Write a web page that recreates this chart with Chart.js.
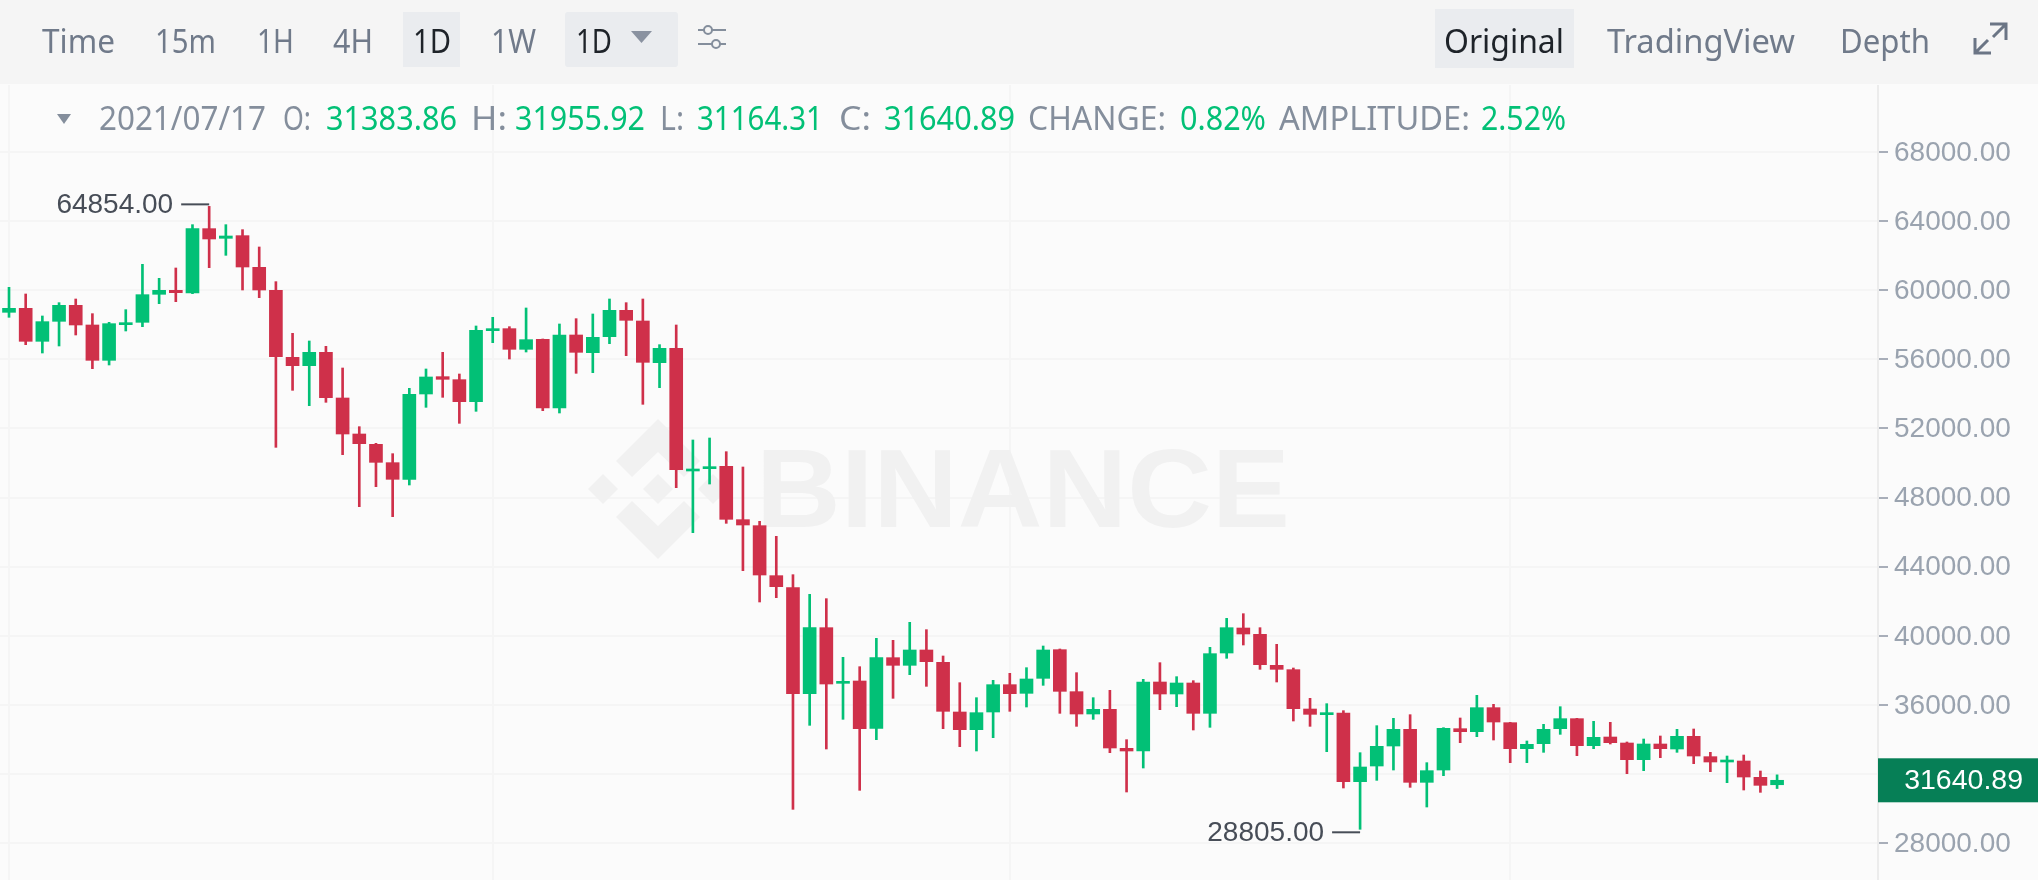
<!DOCTYPE html>
<html>
<head>
<meta charset="utf-8">
<title>BTC 1D</title>
<script src="https://cdn.jsdelivr.net/npm/chart.js@4"></script>
<style>
    html, body { margin: 0; padding: 0; background: #fbfbfb; }
    #page { position: relative; width: 2038px; height: 880px; overflow: hidden; background: #fbfbfb; }
    #toolbar { position: absolute; left: 0; top: 0; width: 2038px; height: 84px; background: #f5f5f5; }
    .box { position: absolute; top: 12px; height: 55px; background: #eaecef; }
    canvas { position: absolute; left: 0; top: 85px; }
    .txt { position: absolute; white-space: nowrap; font-family: "Noto Sans", sans-serif; font-size: 33px; line-height: 40px; transform-origin: left top; }
    svg { position: absolute; left: 0; top: 0; }
</style>
</head>
<body>
<div id="page">
    <div id="toolbar">
        <div class="box" style="left:403px;width:57px"></div>
        <div class="box" style="left:565px;width:113px;border-radius:3px"></div>
        <div class="box" style="left:1435px;width:139px;top:9px;height:59px"></div>
    </div>
    <canvas id="bougies" width="2038" height="795"></canvas>
    <svg width="2038" height="140" fill="none">
        <path d="M631 31 H652 L641.5 43 Z" fill="#8a92a0"/>
        <path d="M57 114 H71 L64 124 Z" fill="#848e9c"/>
        <g stroke="#848e9c" stroke-width="2">
            <path d="M698 30 H704 M712 30 H726 M698 44 H712 M720 44 H726"/>
            <circle cx="708" cy="30" r="4"/>
            <circle cx="716" cy="44" r="4"/>
        </g>
        <path d="M1990 24 H2006 V40 M2006 24 L1993 37 M1975 38 V53 H1991 M1975 53 L1988 40" stroke="#6b7585" stroke-width="3"/>
    </svg>
</div>
<script>
// Données (bougies journalières, dernière = 2021/07/17)
const opens = [
    58722, 58953, 57044, 58201, 59127, 57989, 55944, 58008, 58143, 59764,
    59995, 59841, 63564, 63004, 63159, 61326, 59995, 56118, 55635, 56407,
    53764, 51681, 51083, 50022, 49058, 53996, 54999, 54825, 53552, 57661,
    57777, 56581, 57159, 53186, 57410, 56388, 57314, 58838, 58220, 55809,
    56639, 49540, 49675, 49810, 46723, 46376, 43483, 42788, 36654, 40473,
    37252, 37387, 34648, 38737, 38294, 39181, 38467, 35593, 34571, 35593,
    37175, 36673, 37541, 39200, 36770, 35477, 35747, 33490, 33336, 37329,
    36635, 37271, 35516, 39007, 40454, 40087, 38293, 38043, 35766, 35439,
    35535, 31561, 32468, 33625, 34590, 31523, 32236, 34628, 34455, 35844,
    34975, 33471, 33760, 34628, 35207, 33644, 34146, 33799, 32834, 33741,
    33452, 34185, 33008, 32699, 32757, 31812, 31383.86
];
const closes = [
    58953, 57044, 58182, 59127, 57989, 55944, 58066, 58124, 59744, 59995,
    59860, 63564, 62966, 63139, 61345, 60014, 56156, 55635, 56407, 53784,
    51681, 51122, 50041, 49058, 53977, 54980, 54845, 53552, 57680, 57777,
    56581, 57140, 53186, 57410, 56407, 57275, 58838, 58259, 55828, 56639,
    49617, 49597, 49771, 46743, 46415, 43521, 42846, 36654, 40473, 37213,
    37348, 34628, 38737, 38294, 39181, 38506, 35632, 34571, 35554, 37175,
    36654, 37503, 39181, 36789, 35477, 35747, 33510, 33336, 37329, 36635,
    37271, 35516, 38969, 40473, 40107, 38332, 38062, 35786, 35458, 35535,
    31561, 32410, 33606, 34590, 31523, 32198, 34648, 34455, 35844, 35014,
    33471, 33722, 34590, 35207, 33644, 34127, 33818, 32834, 33741, 33471,
    34185, 33046, 32699, 32776, 31831, 31349, 31640.89
];
const highs = [
    60169, 59783, 58510, 59281, 59493, 58645, 58143, 58876, 61500, 60689,
    61287, 63795, 64854, 63795, 63506, 62503, 60497, 57507, 57063, 56754,
    55500, 52105, 51141, 50543, 54324, 55443, 56407, 55153, 57931, 58433,
    57892, 58973, 57179, 58047, 58355, 58625, 59493, 59281, 59493, 56851,
    57989, 51334, 51449, 50658, 49771, 46627, 45759, 43540, 42402, 42152,
    38757, 38216, 39856, 39740, 40782, 40358, 38834, 37290, 36422, 37426,
    37831, 38158, 39412, 39239, 37869, 36422, 36847, 33992, 37483, 38448,
    37638, 37406, 39335, 41013, 41283, 40473, 39509, 38139, 36384, 36075,
    35670, 33239, 34802, 35226, 35438, 32661, 34686, 35246, 36557, 36036,
    34995, 33915, 34879, 35901, 35226, 35053, 34995, 33857, 34030, 34204,
    34590, 34609, 33259, 33046, 33104, 32178, 31955.92
];
const lows = [
    58433, 56851, 56368, 56774, 57410, 55462, 55674, 57642, 57892, 59223,
    59339, 59802, 61307, 62020, 60014, 59571, 50909, 54208, 53321, 53514,
    50485, 47476, 48633, 46897, 48730, 53224, 53803, 52298, 52993, 56966,
    56021, 56426, 53031, 52896, 55192, 55230, 56909, 56214, 53398, 54362,
    48575, 45971, 48787, 46511, 43772, 41959, 42209, 29960, 34821, 33452,
    35169, 31060, 33992, 36384, 37753, 37078, 34628, 33587, 33336, 34108,
    35632, 35882, 37136, 35516, 34763, 35168, 33239, 30963, 32352, 35728,
    35901, 34551, 34706, 38699, 39470, 38062, 37329, 35072, 34763, 33297,
    31195, 28805, 31638, 32236, 31233, 30095, 31908, 33818, 34165, 33972,
    32661, 32661, 33259, 34300, 33066, 33471, 33741, 32024, 32198, 32950,
    33259, 32603, 32140, 31503, 31079, 30944, 31164.31
];

// Dates des bougies, à partir du 2 avril 2021
const categories = [];
for (let i = 0; i < opens.length; i++) {
    const d = new Date(Date.UTC(2021, 3, 2 + i));
    categories.push(d.toISOString().slice(0, 10).replace(/-/g, "/"));
}

const yTicks = [28000, 32000, 36000, 40000, 44000, 48000, 52000, 56000, 60000, 64000, 68000];
const monthStarts = [0, 29, 60, 90];

const toolbarLabels = ["Time", "15m", "1H", "4H", "1D", "1W", "1D", "Original", "TradingView", "Depth"];
const toolbarBounds = [[42, 115], [155, 216], [257, 294], [333, 373], [413, 451], [491, 536], [576, 612], [1444, 1564], [1607, 1795], [1840, 1930]];
const toolbarActive = [4, 6, 7];

const changePct = "0.82%";
const amplitudePct = "2.52%";

const VERT = "#02c076";
const ROUGE = "#cf304a";
const GRILLE = "#f5f5f5";

// Texte placé entre deux x, ajusté en largeur
function placerTexte(text, x0, x1, baseline, color) {
    const el = document.createElement("span");
    el.className = "txt";
    el.textContent = text;
    el.style.color = color;
    el.style.left = x0 + "px";
    el.style.top = (baseline - 33) + "px";
    document.getElementById("page").appendChild(el);
    el.style.transform = `scaleX(${(x1 - x0) / el.getBoundingClientRect().width})`;
}

toolbarLabels.forEach((label, i) => {
    const color = toolbarActive.includes(i) ? "#1e2329" : "#707a8a";
    placerTexte(label, toolbarBounds[i][0], toolbarBounds[i][1], 54, color);
});

// Ligne OHLC de la dernière bougie
const last = opens.length - 1;
const GRIS = "#848e9c";
placerTexte(categories[last], 99, 266, 131, GRIS);
placerTexte("O:", 283, 311, 131, GRIS);
placerTexte(opens[last].toFixed(2), 326, 457, 131, VERT);
placerTexte("H:", 471, 507, 131, GRIS);
placerTexte(highs[last].toFixed(2), 515, 645, 131, VERT);
placerTexte("L:", 660, 684, 131, GRIS);
placerTexte(lows[last].toFixed(2), 697, 823, 131, VERT);
placerTexte("C:", 839, 871, 131, GRIS);
placerTexte(closes[last].toFixed(2), 884, 1015, 131, VERT);
placerTexte("CHANGE:", 1028, 1166, 131, GRIS);
placerTexte(changePct, 1180, 1266, 131, VERT);
placerTexte("AMPLITUDE:", 1279, 1470, 131, GRIS);
placerTexte(amplitudePct, 1481, 1566, 131, VERT);

// Filigrane BINANCE, sous les bougies
const filigrane = {
    id: "filigrane",
    beforeDatasetsDraw(chart) {
        const ctx = chart.ctx;
        ctx.save();
        ctx.translate(0, -85);
        ctx.fillStyle = "#f1f1f1";
        const losange = (cx, cy, r) => {
            ctx.beginPath();
            ctx.moveTo(cx - r, cy);
            ctx.lineTo(cx, cy - r);
            ctx.lineTo(cx + r, cy);
            ctx.lineTo(cx, cy + r);
            ctx.fill();
        };
        losange(603, 489, 15);
        losange(658, 489, 15);
        losange(713, 489, 15);
        [1, -1].forEach((s) => {
            ctx.beginPath();
            ctx.moveTo(658, 489 - 70 * s);
            ctx.lineTo(700, 489 - 28 * s);
            ctx.lineTo(684, 489 - 12 * s);
            ctx.lineTo(658, 489 - 37 * s);
            ctx.lineTo(632, 489 - 12 * s);
            ctx.lineTo(616, 489 - 28 * s);
            ctx.fill();
        });
        ctx.font = 'bold 112px "Liberation Sans"';
        ctx.textBaseline = "alphabetic";
        const w = ctx.measureText("BINANCE").width;
        ctx.translate(756, 527);
        ctx.scale(534 / w, 1);
        ctx.fillText("BINANCE", 0, 0);
        ctx.restore();
    },
};

// Étiquettes max / min et prix courant
const reperes = {
    id: "reperes",
    afterDatasetsDraw(chart) {
        const ctx = chart.ctx;
        const xs = chart.scales.x;
        const ys = chart.scales.y;
        const maxIdx = highs.indexOf(Math.max(...highs));
        const minIdx = lows.indexOf(Math.min(...lows));

        ctx.save();
        ctx.font = '28px "Liberation Sans"';
        ctx.textBaseline = "middle";
        ctx.textAlign = "right";
        [[maxIdx, highs[maxIdx], -2], [minIdx, lows[minIdx], 3]].forEach(([idx, val, dy]) => {
            const cx = xs.getPixelForValue(idx);
            const y = ys.getPixelForValue(val) + dy;
            ctx.strokeStyle = "#474d57";
            ctx.lineWidth = 2;
            ctx.beginPath();
            ctx.moveTo(cx - 28, y);
            ctx.lineTo(cx, y);
            ctx.stroke();
            ctx.fillStyle = "#474d57";
            ctx.fillText(val.toFixed(2), cx - 36, y + 1);
        });

        const yPrix = ys.getPixelForValue(closes[last]);
        ctx.fillStyle = "#067f56";
        ctx.fillRect(chart.chartArea.right, yPrix - 22, 160, 44);
        ctx.fillStyle = "#ffffff";
        ctx.font = '28.5px "Liberation Sans"';
        ctx.fillText(closes[last].toFixed(2), 2023, yPrix + 1);
        ctx.restore();
    },
};

const couleurs = closes.map((c, i) => (c >= opens[i] ? VERT : ROUGE));

new Chart(document.getElementById("bougies").getContext("2d"), {
    type: "bar",
    data: {
        labels: categories,
        datasets: [
            {
                label: "Mèches",
                data: categories.map((c, i) => ({ x: i, y: [lows[i], highs[i]] })),
                backgroundColor: couleurs,
                barThickness: 2,
                grouped: false,
                order: 2,
            },
            {
                label: "Corps",
                data: categories.map((c, i) => ({ x: i, y: [opens[i], closes[i]] })),
                backgroundColor: couleurs,
                barThickness: 13,
                minBarLength: 2,
                grouped: false,
                order: 1,
            },
        ],
    },
    options: {
        responsive: false,
        animation: false,
        devicePixelRatio: 1,
        plugins: {
            legend: { display: false },
            tooltip: { enabled: false },
        },
        scales: {
            x: {
                type: "linear",
                offset: false,
                min: -0.54,
                max: 112.05,
                border: { display: false },
                grid: { color: GRILLE, lineWidth: 2, offset: false, drawTicks: false },
                ticks: { display: false },
                afterBuildTicks: (scale) => {
                    scale.ticks = monthStarts.map((v) => ({ value: v }));
                },
            },
            y: {
                position: "right",
                min: 25871,
                max: 71877,
                border: { color: "#ececec", width: 2 },
                grid: { color: GRILLE, lineWidth: 2, tickLength: 10, tickColor: "#a8aeb9", tickWidth: 2 },
                ticks: {
                    color: "#9aa3af",
                    font: { family: "Liberation Sans", size: 28 },
                    padding: 6,
                    labelOffset: 1,
                    autoSkip: false,
                    callback: (v) => v.toFixed(2),
                },
                afterBuildTicks: (scale) => {
                    scale.ticks = yTicks.map((v) => ({ value: v }));
                },
                afterFit: (scale) => {
                    scale.width = 160;
                    scale.paddingTop = 0;
                    scale.paddingBottom = 0;
                },
            },
        },
    },
    plugins: [filigrane, reperes],
});
</script>
</body>
</html>
